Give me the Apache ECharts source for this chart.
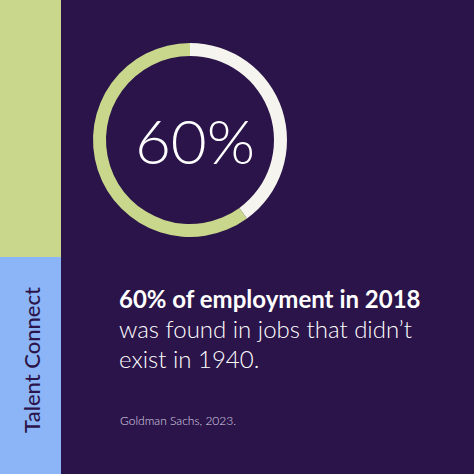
<!DOCTYPE html>
<html><head><meta charset="utf-8">
<script src="https://cdn.jsdelivr.net/npm/echarts@6/dist/echarts.min.js"></script>
<style>html,body{margin:0;padding:0;background:#2b1449}#c{width:474px;height:474px}</style>
</head><body><div id="c"></div>
<script>
const shareLabels = ['Jobs that didn\u2019t exist in 1940', 'Other']
const shareValues = [60, 40]
const headline = '60%'
const bodyLines = ['60% of employment in 2018', 'was found in jobs that didn\u2019t', 'exist in 1940.']
const source = 'Goldman Sachs, 2023.'
const brand = 'Talent Connect'

const chart = echarts.init(document.getElementById('c'), null, { renderer: 'svg', width: 474, height: 474 })
const font = 'Lato, "Open Sans", sans-serif'
chart.setOption({
  backgroundColor: '#2b1449',
  animation: false,
  graphic: [
    { type: 'rect', shape: { x: 0, y: 0, width: 61, height: 257 }, style: { fill: '#c8d78b' } },
    { type: 'rect', shape: { x: 0, y: 257, width: 61, height: 217 }, style: { fill: '#8cb5f7' } },
    { type: 'text', x: 31, y: 360, rotation: Math.PI / 2, style: { text: brand, fill: '#2b1449', font: '500 22px ' + font, align: 'center', verticalAlign: 'middle' } },
    { type: 'text', x: 119, y: 298, style: { text: bodyLines[0], fill: '#fff', font: 'bold 24px ' + font, verticalAlign: 'middle' } },
    { type: 'text', x: 119, y: 328, style: { text: bodyLines[1], fill: '#fff', font: '300 24px ' + font, verticalAlign: 'middle' } },
    { type: 'text', x: 119, y: 358, style: { text: bodyLines[2], fill: '#fff', font: '300 24px ' + font, verticalAlign: 'middle' } },
    { type: 'text', x: 120, y: 420, style: { text: source, fill: '#ddd8e6', font: '300 12px ' + font, verticalAlign: 'middle' } },
    { type: 'text', x: 195, y: 140, style: { text: headline, fill: '#fff', font: '300 62px ' + font, align: 'center', verticalAlign: 'middle' } }
  ],
  series: [{
    type: 'pie',
    center: [190, 140],
    radius: [84, 97],
    startAngle: 90,
    clockwise: false,
    silent: true,
    label: { show: false },
    labelLine: { show: false },
    data: shareLabels.map((n, i) => ({ name: n, value: shareValues[i], itemStyle: { color: i === 0 ? '#c8d78b' : '#f6f4ee' } }))
  }]
})
</script></body></html>
